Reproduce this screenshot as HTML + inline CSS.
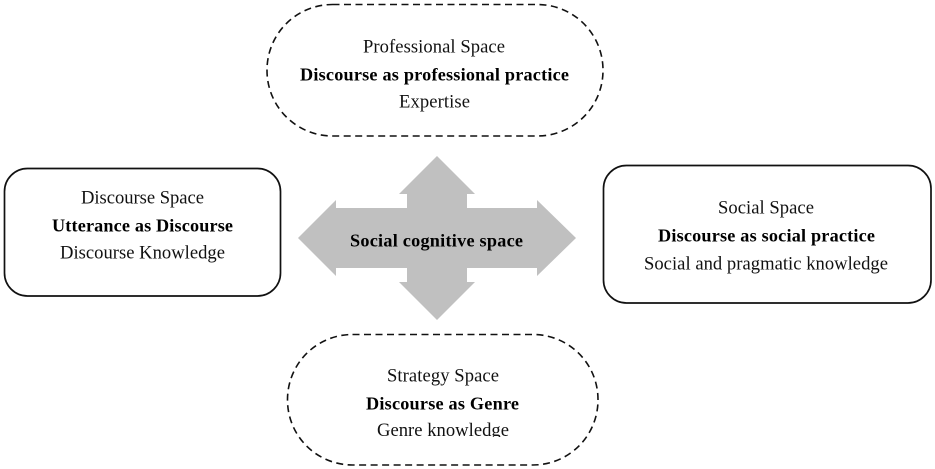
<!DOCTYPE html>
<html><head><meta charset="utf-8"><style>
html,body{margin:0;padding:0;background:#fff}
svg{display:block}
text{font-family:"Liberation Serif",serif;font-size:18.6px;fill:#111}
.b{font-weight:bold;fill:#000;font-size:18.2px}
</style></head><body>
<svg width="935" height="469" viewBox="0 0 935 469" xmlns="http://www.w3.org/2000/svg">
<rect width="935" height="469" fill="#fff"/>
<rect x="267" y="4.5" width="336" height="131.5" rx="65.5" ry="65.5" fill="none" stroke="#111" stroke-width="1.6" stroke-dasharray="7 4.5"/>
<rect x="287.5" y="334.5" width="310.5" height="130.5" rx="65" ry="65" fill="none" stroke="#111" stroke-width="1.6" stroke-dasharray="7 4.5"/>
<rect x="4.5" y="168.5" width="276" height="127.5" rx="23" ry="23" fill="#fff" stroke="#111" stroke-width="1.7"/>
<rect x="603.5" y="165.5" width="327.5" height="137.5" rx="23" ry="23" fill="#fff" stroke="#111" stroke-width="1.7"/>
<polygon fill="#c0c0c0" points="437,156 475,194 467,194 467,208 537,208 537,200 576,238 537,276 537,268 467,268 467,282 475,282 437,320 399,282 407,282 407,268 336,268 336,276 298,238 336,200 336,208 407,208 407,194 399,194"/>
<text x="363" y="52.6" textLength="142">Professional Space</text>
<text class="b" x="300" y="80.6" textLength="269">Discourse as professional practice</text>
<text x="399" y="107.3" textLength="71">Expertise</text>
<text x="81" y="203.3" textLength="123">Discourse Space</text>
<text class="b" x="52" y="231.3" textLength="181">Utterance as Discourse</text>
<text x="60" y="258.3" textLength="165">Discourse Knowledge</text>
<text x="718" y="213.6" textLength="96">Social Space</text>
<text class="b" x="658" y="241.3" textLength="217">Discourse as social practice</text>
<text x="644" y="269.3" textLength="244">Social and pragmatic knowledge</text>
<text class="b" x="350" y="246.3" textLength="173">Social cognitive space</text>
<text x="387" y="381.6" textLength="112">Strategy Space</text>
<text class="b" x="366" y="409.3" textLength="153">Discourse as Genre</text>
<text x="377" y="436" textLength="132">Genre knowledge</text>
<rect x="375" y="437" width="137" height="7" fill="#fff"/>
</svg>
</body></html>
